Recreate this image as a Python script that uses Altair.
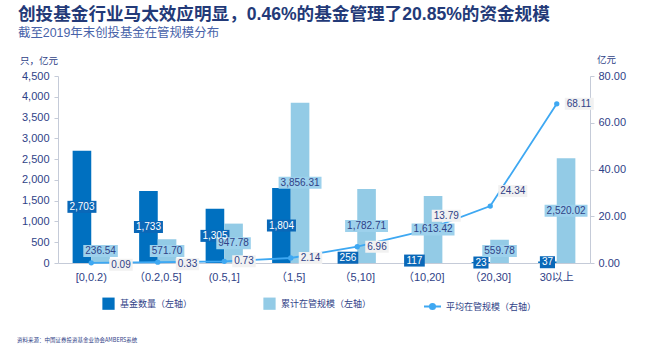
import altair as alt
import pandas as pd

# ---------------- data ----------------
categories = ["[0,0.2)", "（0.2,0.5]", "(0.5,1]", "（1,5]", "（5,10]", "（10,20]", "（20,30]", "30以上"]
fund_count = [2703, 1733, 1305, 1804, 256, 117, 23, 37]
total_aum = [236.54, 571.70, 947.78, 3856.31, 1782.71, 1613.42, 559.78, 2520.02]
avg_aum = [0.09, 0.33, 0.73, 2.14, 6.96, 13.79, 24.34, 68.11]
left_ticks = [0, 500, 1000, 1500, 2000, 2500, 3000, 3500, 4000, 4500]
right_ticks = [0, 10, 20, 30, 40, 50, 60, 70, 80]
series_names = ["基金数量（左轴）", "累计在管规模（左轴）", "平均在管规模（右轴）"]

title_text = "创投基金行业马太效应明显，0.46%的基金管理了20.85%的资金规模"
subtitle_text = "截至2019年末创投基金在管规模分布"
left_unit = "只，亿元"
right_unit = "亿元"
source_text = "资料来源：中国证券投资基金业协会AMBERS系统"

# ---------------- styles ----------------
DARK = "#0070C0"
LIGHT = "#93CBE6"
DARK_BOX = "#0A68B8"
LIGHT_BOX = "#9DD1EC"
AVG_BOX = "#F1F1F1"
LINE = "#3EA8F2"
NAVY = "#2F4287"
TITLE = "#233A78"
SUB = "#4762A9"
AXIS = "#C5CBD8"
FONT = "Liberation Sans, Noto Sans CJK SC"
CJK = "Noto Sans CJK SC"

bars_df = pd.DataFrame({
    "cat": categories * 2,
    "series": [series_names[0]] * len(categories) + [series_names[1]] * len(categories),
    "value": fund_count + total_aum,
    "label": [f"{v:,}" for v in fund_count] + [f"{v:,.2f}" for v in total_aum],
})
avg_df = pd.DataFrame({
    "cat": categories,
    "series": series_names[2],
    "value": avg_aum,
    "label": [f"{v:.2f}" for v in avg_aum],
})

x_enc = alt.X(
    "cat:N", sort=categories,
    scale=alt.Scale(domain=categories, paddingInner=0.44, paddingOuter=0.22),
    axis=alt.Axis(title=None, labelAngle=0, ticks=False, domainColor=AXIS,
                  labelColor=NAVY, labelFont=FONT, labelFontSize=11, labelPadding=8),
)
xoff = alt.XOffset("series:N", scale=alt.Scale(domain=series_names[:2]))
left_scale = alt.Scale(domain=[0, 4500], nice=False, zero=True)
right_scale = alt.Scale(domain=[0, 80], nice=False, zero=True)

bars = alt.Chart(bars_df).mark_bar().encode(
    x=x_enc,
    xOffset=xoff,
    y=alt.Y("value:Q", scale=left_scale,
            axis=alt.Axis(orient="left", title=None, values=left_ticks, format=",.0f", grid=False,
                          domainColor=AXIS, tickColor=AXIS, tickSize=4, labelColor=NAVY,
                          labelFont=FONT, labelFontSize=11, labelPadding=5)),
    color=alt.Color("series:N", scale=alt.Scale(domain=series_names[:2], range=[DARK, LIGHT]),
                    legend=alt.Legend(orient="none", legendX=44, legendY=221, direction="horizontal",
                                      title=None, symbolType="square", symbolSize=150,
                                      symbolStrokeWidth=0, labelFont=CJK, labelFontSize=9,
                                      labelColor=NAVY, columnPadding=70, labelOffset=5)),
)

line_symbol = "M-1,0L1,0M-0.3,0A0.3,0.3,0,1,1,0.3,0A0.3,0.3,0,1,1,-0.3,0Z"
line = alt.Chart(avg_df).mark_line(strokeWidth=1.8).encode(
    x=x_enc,
    y=alt.Y("value:Q", scale=right_scale,
            axis=alt.Axis(orient="right", title=None, values=right_ticks, format=".2f", grid=False,
                          domainColor=AXIS, tickColor=AXIS, tickSize=4, labelColor=NAVY,
                          labelFont=FONT, labelFontSize=11, labelPadding=4)),
    stroke=alt.Stroke("series:N", scale=alt.Scale(domain=[series_names[2]], range=[LINE]),
                      legend=alt.Legend(orient="none", legendX=365, legendY=221, title=None,
                                        symbolType=line_symbol, symbolSize=289, symbolStrokeWidth=2,
                                        symbolFillColor=LINE, labelFont=CJK, labelFontSize=9,
                                        labelColor=NAVY, labelOffset=4)),
)
points = alt.Chart(avg_df).mark_circle(size=28, color=LINE, opacity=1).encode(
    x=x_enc,
    y=alt.Y("value:Q", scale=right_scale, title=None),
)
right = alt.layer(line, points)

digits = "length(replace(datum.label, regexp('[^0-9]', 'g'), ''))"
width_expr = "10 * (0.556 * datum.nd + 0.278 * (length(datum.label) - datum.nd)) + 4"

# bar value labels, centred in each bar (small light bars keep their label clear of the axis)
bar_lab = alt.Chart(bars_df).transform_calculate(
    mid=f"datum.series == '{series_names[1]}' ? max(datum.value / 2, 290) : datum.value / 2",
    nd=digits,
).transform_calculate(
    w=width_expr,
).transform_calculate(
    sz="datum.w * datum.w",
    hb="12 / datum.w",
).transform_calculate(
    path="'M-1,' + (-datum.hb) + 'L1,' + (-datum.hb) + 'L1,' + datum.hb + 'L-1,' + datum.hb + 'Z'",
)
bar_boxes = bar_lab.mark_point(filled=True, opacity=1, strokeWidth=0).encode(
    x=x_enc, xOffset=xoff,
    y=alt.Y("mid:Q", scale=left_scale, axis=None),
    shape=alt.Shape("path:N", scale=None),
    size=alt.Size("sz:Q", scale=None),
    fill=alt.Fill("series:N", scale=alt.Scale(domain=series_names[:2], range=[DARK_BOX, LIGHT_BOX]),
                  legend=None),
)
bar_texts = bar_lab.mark_text(font=FONT, fontSize=10, baseline="middle", align="center").encode(
    x=x_enc, xOffset=xoff,
    y=alt.Y("mid:Q", scale=left_scale, axis=None),
    text="label:N",
    color=alt.condition(alt.datum.series == series_names[0], alt.value("white"), alt.value(NAVY)),
)
bar_labels = alt.layer(bar_boxes, bar_texts)

# average labels: right of the point; tiny values pushed clear of bar labels, mid values lifted
avg_lab = alt.Chart(avg_df).transform_calculate(
    nd=digits,
    ldx="datum.value < 0.5 ? 18 : 8",
    ldy="datum.value < 0.5 ? 2 : (datum.value > 10 && datum.value < 50 ? -15 : 0)",
).transform_calculate(
    w=width_expr,
    tdx="datum.ldx + 2",
).transform_calculate(
    sz="datum.w * datum.w",
    hb="12 / datum.w",
    a="2 * datum.ldx / datum.w",
    c="2 * datum.ldy / datum.w",
).transform_calculate(
    path="'M' + datum.a + ',' + (datum.c - datum.hb) + 'L' + (datum.a + 2) + ',' + (datum.c - datum.hb)"
         " + 'L' + (datum.a + 2) + ',' + (datum.c + datum.hb) + 'L' + datum.a + ',' + (datum.c + datum.hb) + 'Z'",
)
avg_boxes = avg_lab.mark_point(filled=True, opacity=1, strokeWidth=0, fill=AVG_BOX).encode(
    x=x_enc,
    y=alt.Y("value:Q", scale=right_scale, axis=None),
    shape=alt.Shape("path:N", scale=None),
    size=alt.Size("sz:Q", scale=None),
)
avg_texts = avg_lab.mark_text(font=FONT, fontSize=10, baseline="middle", align="left",
                              dx=alt.ExprRef(expr="datum.tdx"), dy=alt.ExprRef(expr="datum.ldy"),
                              color=NAVY).encode(
    x=x_enc,
    y=alt.Y("value:Q", scale=right_scale, axis=None),
    text="label:N",
)
avg_labels = alt.layer(avg_boxes, avg_texts)


def note(txt, x, y, size, color, weight="normal", font=FONT):
    return alt.Chart(pd.DataFrame({"t": [txt]})).mark_text(
        align="left", baseline="middle", fontSize=size, color=color, fontWeight=weight, font=font
    ).encode(x=alt.value(x), y=alt.value(y), text="t:N")


annotations = [
    note(title_text, -40, -61, 17.6, TITLE, "bold"),
    note(subtitle_text, -40, -43.5, 12.4, SUB),
    note(left_unit, -38, -15, 9.5, NAVY, font=CJK),
    note(right_unit, 539, -16, 9.5, NAVY, font=CJK),
    note(source_text, -41, 264, 5.5, NAVY, font=CJK),
]

chart = alt.layer(bars, right, bar_labels, avg_labels, *annotations).resolve_scale(
    y="independent"
).properties(
    width=532, height=187,
    padding={"left": 58, "top": 76, "right": 58, "bottom": 89},
    autosize=alt.AutoSizeParams(type="none"),
    background="white",
).configure_view(stroke=None)

chart.save("out.html", embed_options={"renderer": "svg", "actions": False})
